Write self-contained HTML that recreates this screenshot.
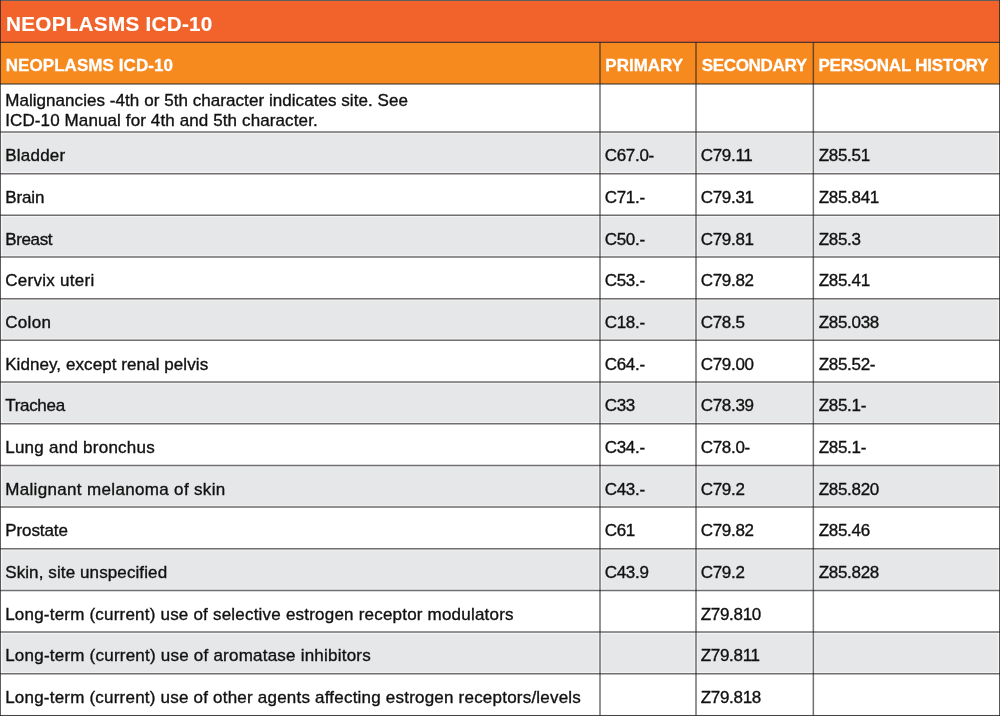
<!DOCTYPE html>
<html><head><meta charset="utf-8"><title>Neoplasms ICD-10</title>
<style>
html,body{margin:0;padding:0;background:#fff;}
#wrap{position:relative;width:1000px;height:716px;overflow:hidden;}
svg{position:absolute;left:0;top:0;}
.ti,.hd,.bd{position:absolute;white-space:nowrap;font-family:"Liberation Sans",Arial,sans-serif;line-height:0;height:0;}
.ti{font-size:19.5px;font-weight:700;color:#fff;letter-spacing:0.2px;-webkit-text-stroke:0.15px #fff;transform:scaleX(1.06);transform-origin:0 0;}
.hd{font-size:17px;font-weight:700;color:#fff;-webkit-text-stroke:0.3px #fff;}
.bd{font-size:17px;font-weight:400;color:#111;-webkit-text-stroke:0.35px #111;}
</style></head><body>
<div id="wrap">
<svg width="1000" height="716" viewBox="0 0 1000 716">
<rect x="0" y="1" width="1000" height="41.4" fill="#F1632A"/>
<rect x="0" y="42.4" width="1000" height="41.6" fill="#F68A1F"/>
<rect x="0" y="131.95" width="1000" height="41.68" fill="#E6E7E8"/>
<rect x="0" y="215.31" width="1000" height="41.68" fill="#E6E7E8"/>
<rect x="0" y="298.67" width="1000" height="41.68" fill="#E6E7E8"/>
<rect x="0" y="382.03" width="1000" height="41.68" fill="#E6E7E8"/>
<rect x="0" y="465.39" width="1000" height="41.68" fill="#E6E7E8"/>
<rect x="0" y="548.75" width="1000" height="41.68" fill="#E6E7E8"/>
<rect x="0" y="632.11" width="1000" height="41.68" fill="#E6E7E8"/>
<line x1="0" y1="131.95" x2="1000" y2="131.95" stroke="#fff" stroke-width="3.6" stroke-opacity="0.55"/>
<line x1="0" y1="173.63" x2="1000" y2="173.63" stroke="#fff" stroke-width="3.6" stroke-opacity="0.55"/>
<line x1="0" y1="215.31" x2="1000" y2="215.31" stroke="#fff" stroke-width="3.6" stroke-opacity="0.55"/>
<line x1="0" y1="256.99" x2="1000" y2="256.99" stroke="#fff" stroke-width="3.6" stroke-opacity="0.55"/>
<line x1="0" y1="298.67" x2="1000" y2="298.67" stroke="#fff" stroke-width="3.6" stroke-opacity="0.55"/>
<line x1="0" y1="340.35" x2="1000" y2="340.35" stroke="#fff" stroke-width="3.6" stroke-opacity="0.55"/>
<line x1="0" y1="382.03" x2="1000" y2="382.03" stroke="#fff" stroke-width="3.6" stroke-opacity="0.55"/>
<line x1="0" y1="423.71" x2="1000" y2="423.71" stroke="#fff" stroke-width="3.6" stroke-opacity="0.55"/>
<line x1="0" y1="465.39" x2="1000" y2="465.39" stroke="#fff" stroke-width="3.6" stroke-opacity="0.55"/>
<line x1="0" y1="507.07" x2="1000" y2="507.07" stroke="#fff" stroke-width="3.6" stroke-opacity="0.55"/>
<line x1="0" y1="548.75" x2="1000" y2="548.75" stroke="#fff" stroke-width="3.6" stroke-opacity="0.55"/>
<line x1="0" y1="590.43" x2="1000" y2="590.43" stroke="#fff" stroke-width="3.6" stroke-opacity="0.55"/>
<line x1="0" y1="632.11" x2="1000" y2="632.11" stroke="#fff" stroke-width="3.6" stroke-opacity="0.55"/>
<line x1="0" y1="673.79" x2="1000" y2="673.79" stroke="#fff" stroke-width="3.6" stroke-opacity="0.55"/>
<line x1="600.00" y1="85.00" x2="600.00" y2="716" stroke="#fff" stroke-width="3.6" stroke-opacity="0.55"/>
<line x1="696.00" y1="85.00" x2="696.00" y2="716" stroke="#fff" stroke-width="3.6" stroke-opacity="0.55"/>
<line x1="813.35" y1="85.00" x2="813.35" y2="716" stroke="#fff" stroke-width="3.6" stroke-opacity="0.55"/>
<line x1="0.50" y1="85.00" x2="0.50" y2="716" stroke="#fff" stroke-width="3.6" stroke-opacity="0.55"/>
<line x1="999.50" y1="85.00" x2="999.50" y2="716" stroke="#fff" stroke-width="3.6" stroke-opacity="0.55"/>
<line x1="0" y1="0.50" x2="1000" y2="0.50" stroke="#231F20" stroke-width="1" stroke-opacity="0.72"/>
<line x1="0" y1="42.40" x2="1000" y2="42.40" stroke="#231F20" stroke-width="1.2" stroke-opacity="0.8"/>
<line x1="0" y1="84.00" x2="1000" y2="84.00" stroke="#231F20" stroke-width="1.5" stroke-opacity="0.64"/>
<line x1="0" y1="131.95" x2="1000" y2="131.95" stroke="#231F20" stroke-width="1.5" stroke-opacity="0.64"/>
<line x1="0" y1="173.63" x2="1000" y2="173.63" stroke="#231F20" stroke-width="1.5" stroke-opacity="0.64"/>
<line x1="0" y1="215.31" x2="1000" y2="215.31" stroke="#231F20" stroke-width="1.5" stroke-opacity="0.64"/>
<line x1="0" y1="256.99" x2="1000" y2="256.99" stroke="#231F20" stroke-width="1.5" stroke-opacity="0.64"/>
<line x1="0" y1="298.67" x2="1000" y2="298.67" stroke="#231F20" stroke-width="1.5" stroke-opacity="0.64"/>
<line x1="0" y1="340.35" x2="1000" y2="340.35" stroke="#231F20" stroke-width="1.5" stroke-opacity="0.64"/>
<line x1="0" y1="382.03" x2="1000" y2="382.03" stroke="#231F20" stroke-width="1.5" stroke-opacity="0.64"/>
<line x1="0" y1="423.71" x2="1000" y2="423.71" stroke="#231F20" stroke-width="1.5" stroke-opacity="0.64"/>
<line x1="0" y1="465.39" x2="1000" y2="465.39" stroke="#231F20" stroke-width="1.5" stroke-opacity="0.64"/>
<line x1="0" y1="507.07" x2="1000" y2="507.07" stroke="#231F20" stroke-width="1.5" stroke-opacity="0.64"/>
<line x1="0" y1="548.75" x2="1000" y2="548.75" stroke="#231F20" stroke-width="1.5" stroke-opacity="0.64"/>
<line x1="0" y1="590.43" x2="1000" y2="590.43" stroke="#231F20" stroke-width="1.5" stroke-opacity="0.64"/>
<line x1="0" y1="632.11" x2="1000" y2="632.11" stroke="#231F20" stroke-width="1.5" stroke-opacity="0.64"/>
<line x1="0" y1="673.79" x2="1000" y2="673.79" stroke="#231F20" stroke-width="1.5" stroke-opacity="0.64"/>
<line x1="0" y1="715.47" x2="1000" y2="715.47" stroke="#231F20" stroke-width="1" stroke-opacity="0.85"/>
<line x1="600.00" y1="42.40" x2="600.00" y2="715.47" stroke="#231F20" stroke-width="1.5" stroke-opacity="0.64"/>
<line x1="696.00" y1="42.40" x2="696.00" y2="715.47" stroke="#231F20" stroke-width="1.5" stroke-opacity="0.64"/>
<line x1="813.35" y1="42.40" x2="813.35" y2="715.47" stroke="#231F20" stroke-width="1.5" stroke-opacity="0.64"/>
<line x1="0.50" y1="0.00" x2="0.50" y2="716.00" stroke="#231F20" stroke-width="1" stroke-opacity="0.72"/>
<line x1="999.50" y1="0.00" x2="999.50" y2="716.00" stroke="#231F20" stroke-width="1" stroke-opacity="0.75"/>
</svg>
<div class="ti" id="title" style="left:5.60px;top:24.04px;letter-spacing:0.266px">NEOPLASMS ICD-10</div>
<div class="hd" id="h0" style="left:5.70px;top:66.31px;letter-spacing:0.067px">NEOPLASMS ICD-10</div>
<div class="hd" id="h1" style="left:605.30px;top:66.31px">PRIMARY</div>
<div class="hd" id="h2" style="left:701.70px;top:66.31px;letter-spacing:-0.323px">SECONDARY</div>
<div class="hd" id="h3" style="left:818.50px;top:66.31px;letter-spacing:-0.240px">PERSONAL HISTORY</div>
<div class="bd" id="m1" style="left:5.20px;top:100.91px;letter-spacing:0.056px">Malignancies -4th or 5th character indicates site. See</div>
<div class="bd" id="m2" style="left:5.20px;top:121.11px;letter-spacing:0.114px">ICD-10 Manual for 4th and 5th character.</div>
<div class="bd" id="r0c0" style="left:5.20px;top:156.26px;letter-spacing:0.233px">Bladder</div>
<div class="bd" id="r0c1" style="left:604.70px;top:156.26px;letter-spacing:-0.300px">C67.0-</div>
<div class="bd" id="r0c2" style="left:700.70px;top:156.26px;letter-spacing:-0.300px">C79.11</div>
<div class="bd" id="r0c3" style="left:818.70px;top:156.26px;letter-spacing:-0.300px">Z85.51</div>
<div class="bd" id="r1c0" style="left:5.20px;top:197.94px;letter-spacing:-0.100px">Brain</div>
<div class="bd" id="r1c1" style="left:604.70px;top:197.94px;letter-spacing:-0.300px">C71.-</div>
<div class="bd" id="r1c2" style="left:700.70px;top:197.94px;letter-spacing:-0.300px">C79.31</div>
<div class="bd" id="r1c3" style="left:818.70px;top:197.94px;letter-spacing:-0.300px">Z85.841</div>
<div class="bd" id="r2c0" style="left:5.20px;top:239.62px;letter-spacing:-0.360px">Breast</div>
<div class="bd" id="r2c1" style="left:604.70px;top:239.62px;letter-spacing:-0.300px">C50.-</div>
<div class="bd" id="r2c2" style="left:700.70px;top:239.62px;letter-spacing:-0.300px">C79.81</div>
<div class="bd" id="r2c3" style="left:818.70px;top:239.62px;letter-spacing:-0.300px">Z85.3</div>
<div class="bd" id="r3c0" style="left:5.20px;top:281.30px;letter-spacing:0.290px">Cervix uteri</div>
<div class="bd" id="r3c1" style="left:604.70px;top:281.30px;letter-spacing:-0.300px">C53.-</div>
<div class="bd" id="r3c2" style="left:700.70px;top:281.30px;letter-spacing:-0.300px">C79.82</div>
<div class="bd" id="r3c3" style="left:818.70px;top:281.30px;letter-spacing:-0.300px">Z85.41</div>
<div class="bd" id="r4c0" style="left:5.20px;top:322.98px;letter-spacing:0.350px">Colon</div>
<div class="bd" id="r4c1" style="left:604.70px;top:322.98px;letter-spacing:-0.300px">C18.-</div>
<div class="bd" id="r4c2" style="left:700.70px;top:322.98px;letter-spacing:-0.300px">C78.5</div>
<div class="bd" id="r4c3" style="left:818.70px;top:322.98px;letter-spacing:-0.300px">Z85.038</div>
<div class="bd" id="r5c0" style="left:5.20px;top:364.66px;letter-spacing:0.077px">Kidney, except renal pelvis</div>
<div class="bd" id="r5c1" style="left:604.70px;top:364.66px;letter-spacing:-0.300px">C64.-</div>
<div class="bd" id="r5c2" style="left:700.70px;top:364.66px;letter-spacing:-0.300px">C79.00</div>
<div class="bd" id="r5c3" style="left:818.70px;top:364.66px;letter-spacing:-0.300px">Z85.52-</div>
<div class="bd" id="r6c0" style="left:5.20px;top:406.34px;letter-spacing:-0.300px">Trachea</div>
<div class="bd" id="r6c1" style="left:604.70px;top:406.34px;letter-spacing:-0.300px">C33</div>
<div class="bd" id="r6c2" style="left:700.70px;top:406.34px;letter-spacing:-0.300px">C78.39</div>
<div class="bd" id="r6c3" style="left:818.70px;top:406.34px;letter-spacing:-0.300px">Z85.1-</div>
<div class="bd" id="r7c0" style="left:5.20px;top:448.02px;letter-spacing:0.250px">Lung and bronchus</div>
<div class="bd" id="r7c1" style="left:604.70px;top:448.02px;letter-spacing:-0.300px">C34.-</div>
<div class="bd" id="r7c2" style="left:700.70px;top:448.02px;letter-spacing:-0.300px">C78.0-</div>
<div class="bd" id="r7c3" style="left:818.70px;top:448.02px;letter-spacing:-0.300px">Z85.1-</div>
<div class="bd" id="r8c0" style="left:5.20px;top:489.70px;letter-spacing:0.336px">Malignant melanoma of skin</div>
<div class="bd" id="r8c1" style="left:604.70px;top:489.70px;letter-spacing:-0.300px">C43.-</div>
<div class="bd" id="r8c2" style="left:700.70px;top:489.70px;letter-spacing:-0.300px">C79.2</div>
<div class="bd" id="r8c3" style="left:818.70px;top:489.70px;letter-spacing:-0.300px">Z85.820</div>
<div class="bd" id="r9c0" style="left:5.20px;top:531.38px;letter-spacing:-0.087px">Prostate</div>
<div class="bd" id="r9c1" style="left:604.70px;top:531.38px;letter-spacing:-0.300px">C61</div>
<div class="bd" id="r9c2" style="left:700.70px;top:531.38px;letter-spacing:-0.300px">C79.82</div>
<div class="bd" id="r9c3" style="left:818.70px;top:531.38px;letter-spacing:-0.300px">Z85.46</div>
<div class="bd" id="r10c0" style="left:5.20px;top:573.06px;letter-spacing:0.105px">Skin, site unspecified</div>
<div class="bd" id="r10c1" style="left:604.70px;top:573.06px;letter-spacing:-0.300px">C43.9</div>
<div class="bd" id="r10c2" style="left:700.70px;top:573.06px;letter-spacing:-0.300px">C79.2</div>
<div class="bd" id="r10c3" style="left:818.70px;top:573.06px;letter-spacing:-0.300px">Z85.828</div>
<div class="bd" id="r11c0" style="left:5.20px;top:614.74px;letter-spacing:0.207px">Long-term (current) use of selective estrogen receptor modulators</div>
<div class="bd" id="r11c2" style="left:700.70px;top:614.74px;letter-spacing:-0.300px">Z79.810</div>
<div class="bd" id="r12c0" style="left:5.20px;top:656.42px;letter-spacing:0.223px">Long-term (current) use of aromatase inhibitors</div>
<div class="bd" id="r12c2" style="left:700.70px;top:656.42px;letter-spacing:-0.300px">Z79.811</div>
<div class="bd" id="r13c0" style="left:5.20px;top:698.10px;letter-spacing:0.211px">Long-term (current) use of other agents affecting estrogen receptors/levels</div>
<div class="bd" id="r13c2" style="left:700.70px;top:698.10px;letter-spacing:-0.300px">Z79.818</div>
</div>
</body></html>
